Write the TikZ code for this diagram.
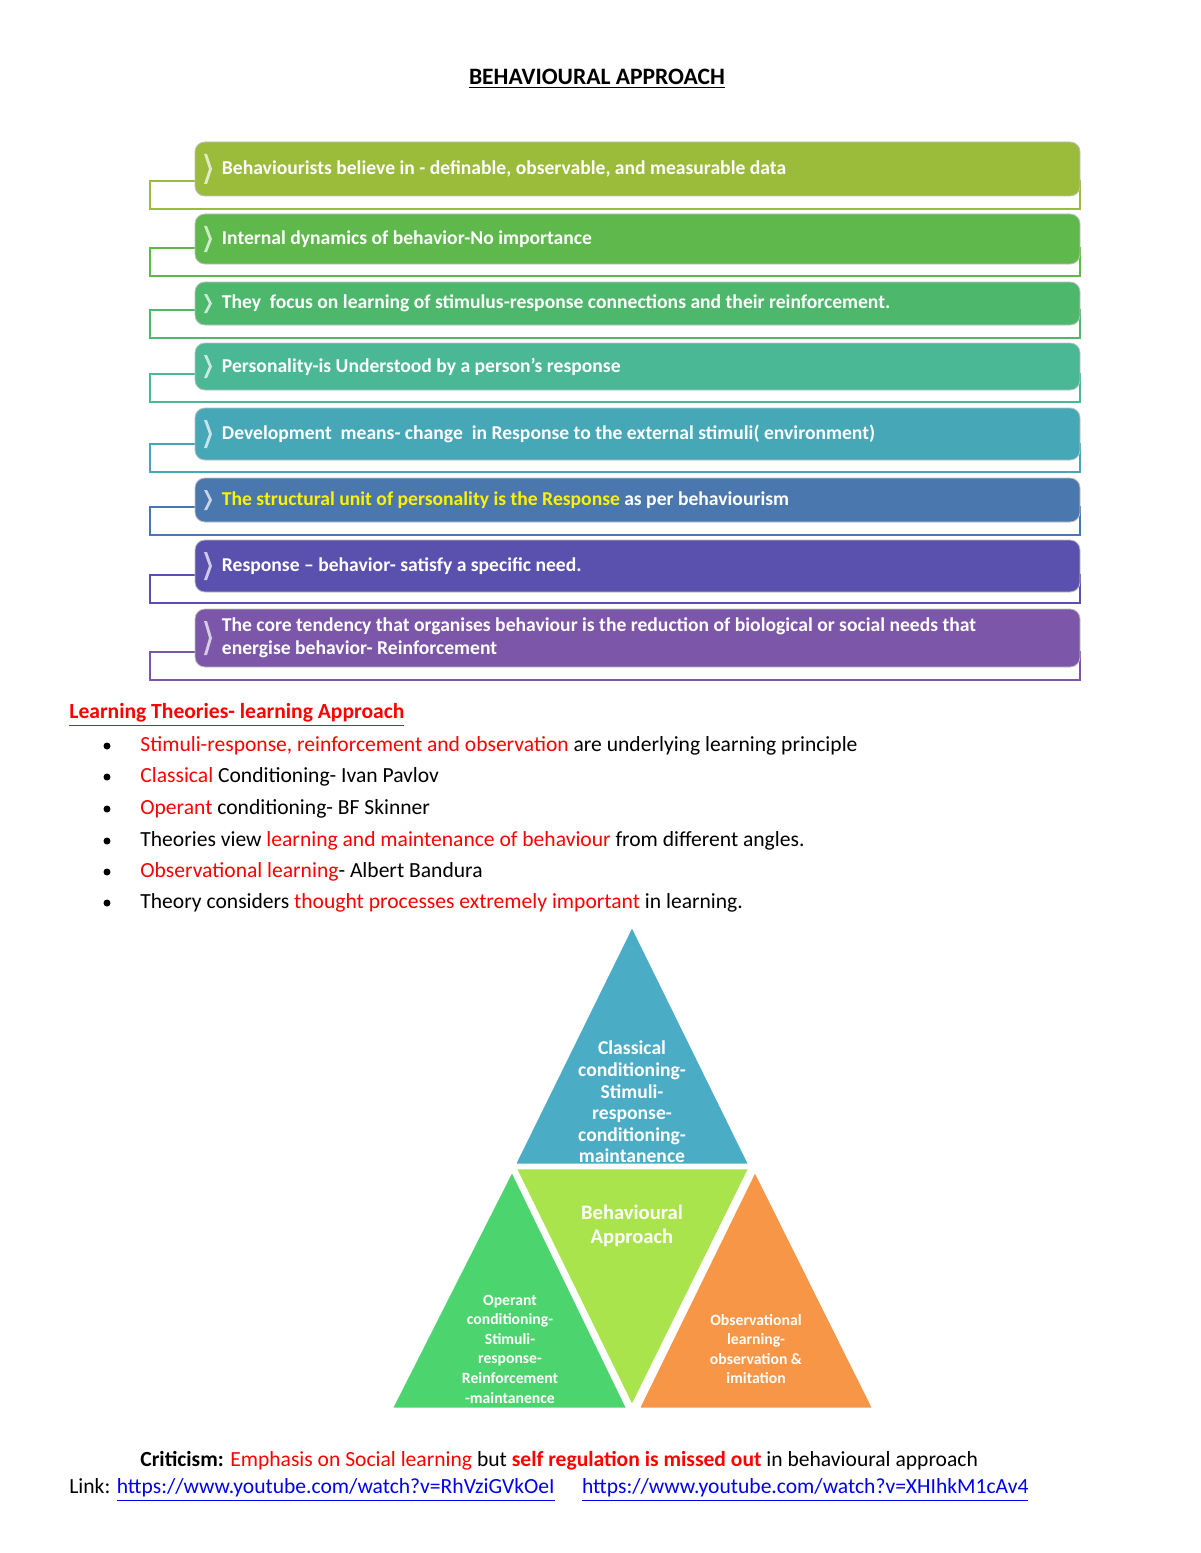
\documentclass[tikz,border=0pt]{standalone}
\usepackage{fontspec}
\setmainfont{Carlito}
\newcommand\uline[1]{\underline{#1}}
\definecolor{cA}{HTML}{9BBB3A}
\definecolor{cB}{HTML}{5EB84B}
\definecolor{cC}{HTML}{4DB86C}
\definecolor{cD}{HTML}{4AB894}
\definecolor{cE}{HTML}{46A7B6}
\definecolor{cF}{HTML}{4A78AE}
\definecolor{cG}{HTML}{5A51AE}
\definecolor{cH}{HTML}{7C56A8}
\definecolor{tT}{HTML}{4BACC6}
\definecolor{tM}{HTML}{A9E44C}
\definecolor{tL}{HTML}{4CD46E}
\definecolor{tR}{HTML}{F79646}
\definecolor{rd}{HTML}{FF0000}
\definecolor{bl}{HTML}{0000EE}
\newcommand\rd[1]{\textcolor{rd}{#1}}
\newcommand\mkbar[6]{% name, color, top, bottom, backtop, text
  \draw[#2,line width=1.2pt,fill=white] (150,#5) rectangle (1080,#5+28);
  \node[barbox,fill=#2,minimum height={(#4-#3)*0.51pt}] (#1) at (637.5,#3/2+#4/2) {};
  \fill[white!70!#2] (204,#3+12) -- (209,#3/2+#4/2) -- (204,#4-12) -- (207,#4-12) -- (212,#3/2+#4/2) -- (207,#3+12) -- cycle;
  \node[bartext,anchor=west] (#1t) at (215,#3/2+#4/2) {#6};
}
\begin{document}
\begin{tikzpicture}[x=0.51pt,y=-0.51pt,
  barbox/.style={draw=black!25,rounded corners=5pt,minimum width=885*0.51pt,inner sep=0pt},
  bartext/.style={text=white,font=\bfseries\fontsize{10}{11.5}\selectfont,align=left},
  body/.style={anchor=west,font=\fontsize{11}{13}\selectfont,inner sep=0pt},
  tri/.style={draw=white,line width=1.5pt},
  tritext/.style={text=white,font=\bfseries\fontsize{9}{10.5}\selectfont,align=center}]
\useasboundingbox (0,0) rectangle (1200,1553);
\fill[white] (0,0) rectangle (1200,1553);
\node[font=\bfseries\fontsize{12}{14}\selectfont] (title) at (597,79) {\uline{BEHAVIOURAL APPROACH}};
\mkbar{b1}{cA}{142}{196}{181}{Behaviourists believe in - definable, observable, and measurable data}
\mkbar{b2}{cB}{214}{264}{248}{Internal dynamics of behavior-No importance}
\mkbar{b3}{cC}{282}{325}{310}{They\ \ focus on learning of stimulus-response connections and their reinforcement.}
\mkbar{b4}{cD}{343}{390}{374}{Personality-is Understood by a person's response}
\mkbar{b5}{cE}{408}{460}{444}{Development\ \ means- change\ \ in Response to the external stimuli( environment)}
\mkbar{b6}{cF}{478}{522}{507}{\textcolor{yellow}{The structural unit of personality is the Response} as per behaviourism}
\mkbar{b7}{cG}{540}{592}{575}{Response -- behavior- satisfy a specific need.}
\mkbar{b8}{cH}{609}{667}{652}{The core tendency that organises behaviour is the reduction of biological or social needs that\\energise behavior- Reinforcement}
\node[body,font=\bfseries\fontsize{11}{13}\selectfont,text=rd] (lt) at (69,715) {\uline{Learning Theories- learning Approach}};
\foreach \y/\t [count=\i] in {746/{\rd{Stimuli-response, reinforcement and observation} are underlying learning principle},
  777/{\rd{Classical} Conditioning- Ivan Pavlov},
  809/{\rd{Operant} conditioning- BF Skinner},
  841/{Theories view \rd{learning and maintenance of behaviour} from different angles.},
  872/{\rd{Observational learning}- Albert Bandura},
  903/{Theory considers \rd{thought processes extremely important} in learning.}}{
  \fill (107,\y) circle (3.5);
  \node[body] (l\i) at (140,\y) {\t};
}
\fill[tT,tri] (632,925) -- (750,1165) -- (514,1165) -- cycle;
\fill[tM,tri] (515,1168) -- (750,1168) -- (632,1407) -- cycle;
\fill[tL,tri] (512,1170) -- (628,1409) -- (391,1409) -- cycle;
\fill[tR,tri] (755,1170) -- (874,1409) -- (638,1409) -- cycle;
\begin{scope}
\clip (632,925) -- (750,1165) -- (514,1165) -- cycle;
\node[tritext,font=\bfseries\fontsize{10}{11}\selectfont] (tt) at (632,1102) {Classical\\conditioning-\\Stimuli-\\response-\\conditioning-\\maintanence};
\end{scope}
\node[tritext,font=\bfseries\fontsize{10.5}{12.5}\selectfont] (tm) at (632,1226) {Behavioural\\Approach};
\node[tritext,font=\bfseries\fontsize{8}{10}\selectfont] (tl) at (510,1349) {Operant\\conditioning-\\Stimuli-\\response-\\Reinforcement\\-maintanence};
\node[tritext,font=\bfseries\fontsize{8}{10}\selectfont] (tr) at (756,1349) {Observational\\learning-\\observation \&\\imitation};
\node[body] (crit) at (140,1461) {\textbf{Criticism:} \rd{Emphasis on Social learning} but \textbf{\rd{self regulation is missed out}} in behavioural approach};
\node[body] (link) at (69,1490) {Link: \textcolor{bl}{\uline{https://www.youtube.com/watch?v=RhVziGVkOeI}}\hspace{14pt}\textcolor{bl}{\uline{https://www.youtube.com/watch?v=XHIhkM1cAv4}}};
\end{tikzpicture}
\end{document}
